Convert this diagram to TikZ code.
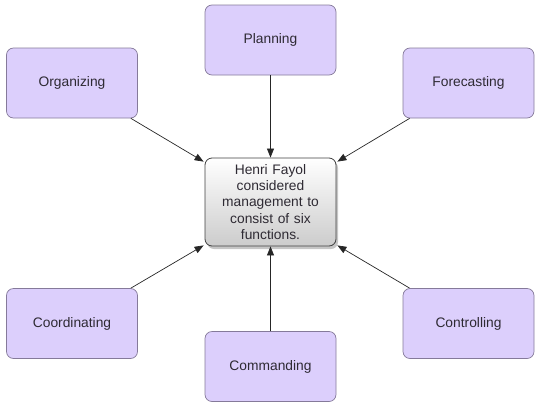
\documentclass[tikz,border=0pt]{standalone}
\usepackage{fontspec}
\setmainfont{Liberation Sans}
\usetikzlibrary{shadows,arrows.meta}
\definecolor{boxfill}{HTML}{DCCFFC}
\definecolor{boxline}{HTML}{857A9A}
\definecolor{txt}{HTML}{2E2A33}
\begin{document}
\begin{tikzpicture}[x=1pt,y=-1pt,
  func/.style={draw=boxline,line width=0.7pt,fill=boxfill,rounded corners=7pt,
    minimum width=131pt,minimum height=70pt,inner sep=0pt,
    font=\fontsize{13.8}{16}\selectfont,text=txt},
  hub/.style={draw=black!75,line width=0.8pt,rounded corners=7pt,
    top color=white,bottom color=black!20,
    drop shadow={shadow xshift=2pt,shadow yshift=-3pt,opacity=0.45},
    minimum width=131pt,minimum height=88pt,inner sep=2pt,text width=127pt,align=center,
    font=\fontsize{13.8}{16.4}\selectfont,text=txt},
  conn/.style={-{Triangle[length=9pt,width=7pt]},line width=0.7pt,black!85}]
\useasboundingbox (0,0) rectangle (540,407);
\node[func] (plan) at (270.5,40) {Planning};
\node[func] (org) at (72,83) {Organizing};
\node[func] (fore) at (468.5,83) {Forecasting};
\node[func] (coord) at (72,323.5) {Coordinating};
\node[func] (comm) at (270.5,366.5) {Commanding};
\node[func] (ctrl) at (468.5,323.5) {Controlling};
\node[hub] (hub) at (270.5,202) {Henri Fayol\\considered\\management to\\consist of six\\functions.};
\draw[conn] (plan.south) -- (hub.north);
\draw[conn] ([xshift=-7pt]org.south east) -- ([xshift=-1pt,yshift=-4pt]hub.north west);
\draw[conn] ([xshift=7pt]fore.south west) -- ([xshift=1pt,yshift=-4pt]hub.north east);
\draw[conn] ([xshift=-7pt]coord.north east) -- ([xshift=-1pt,yshift=1pt]hub.south west);
\draw[conn] ([xshift=7pt]ctrl.north west) -- ([xshift=1pt,yshift=1pt]hub.south east);
\draw[conn] (comm.north) -- (hub.south);
\end{tikzpicture}
\end{document}
